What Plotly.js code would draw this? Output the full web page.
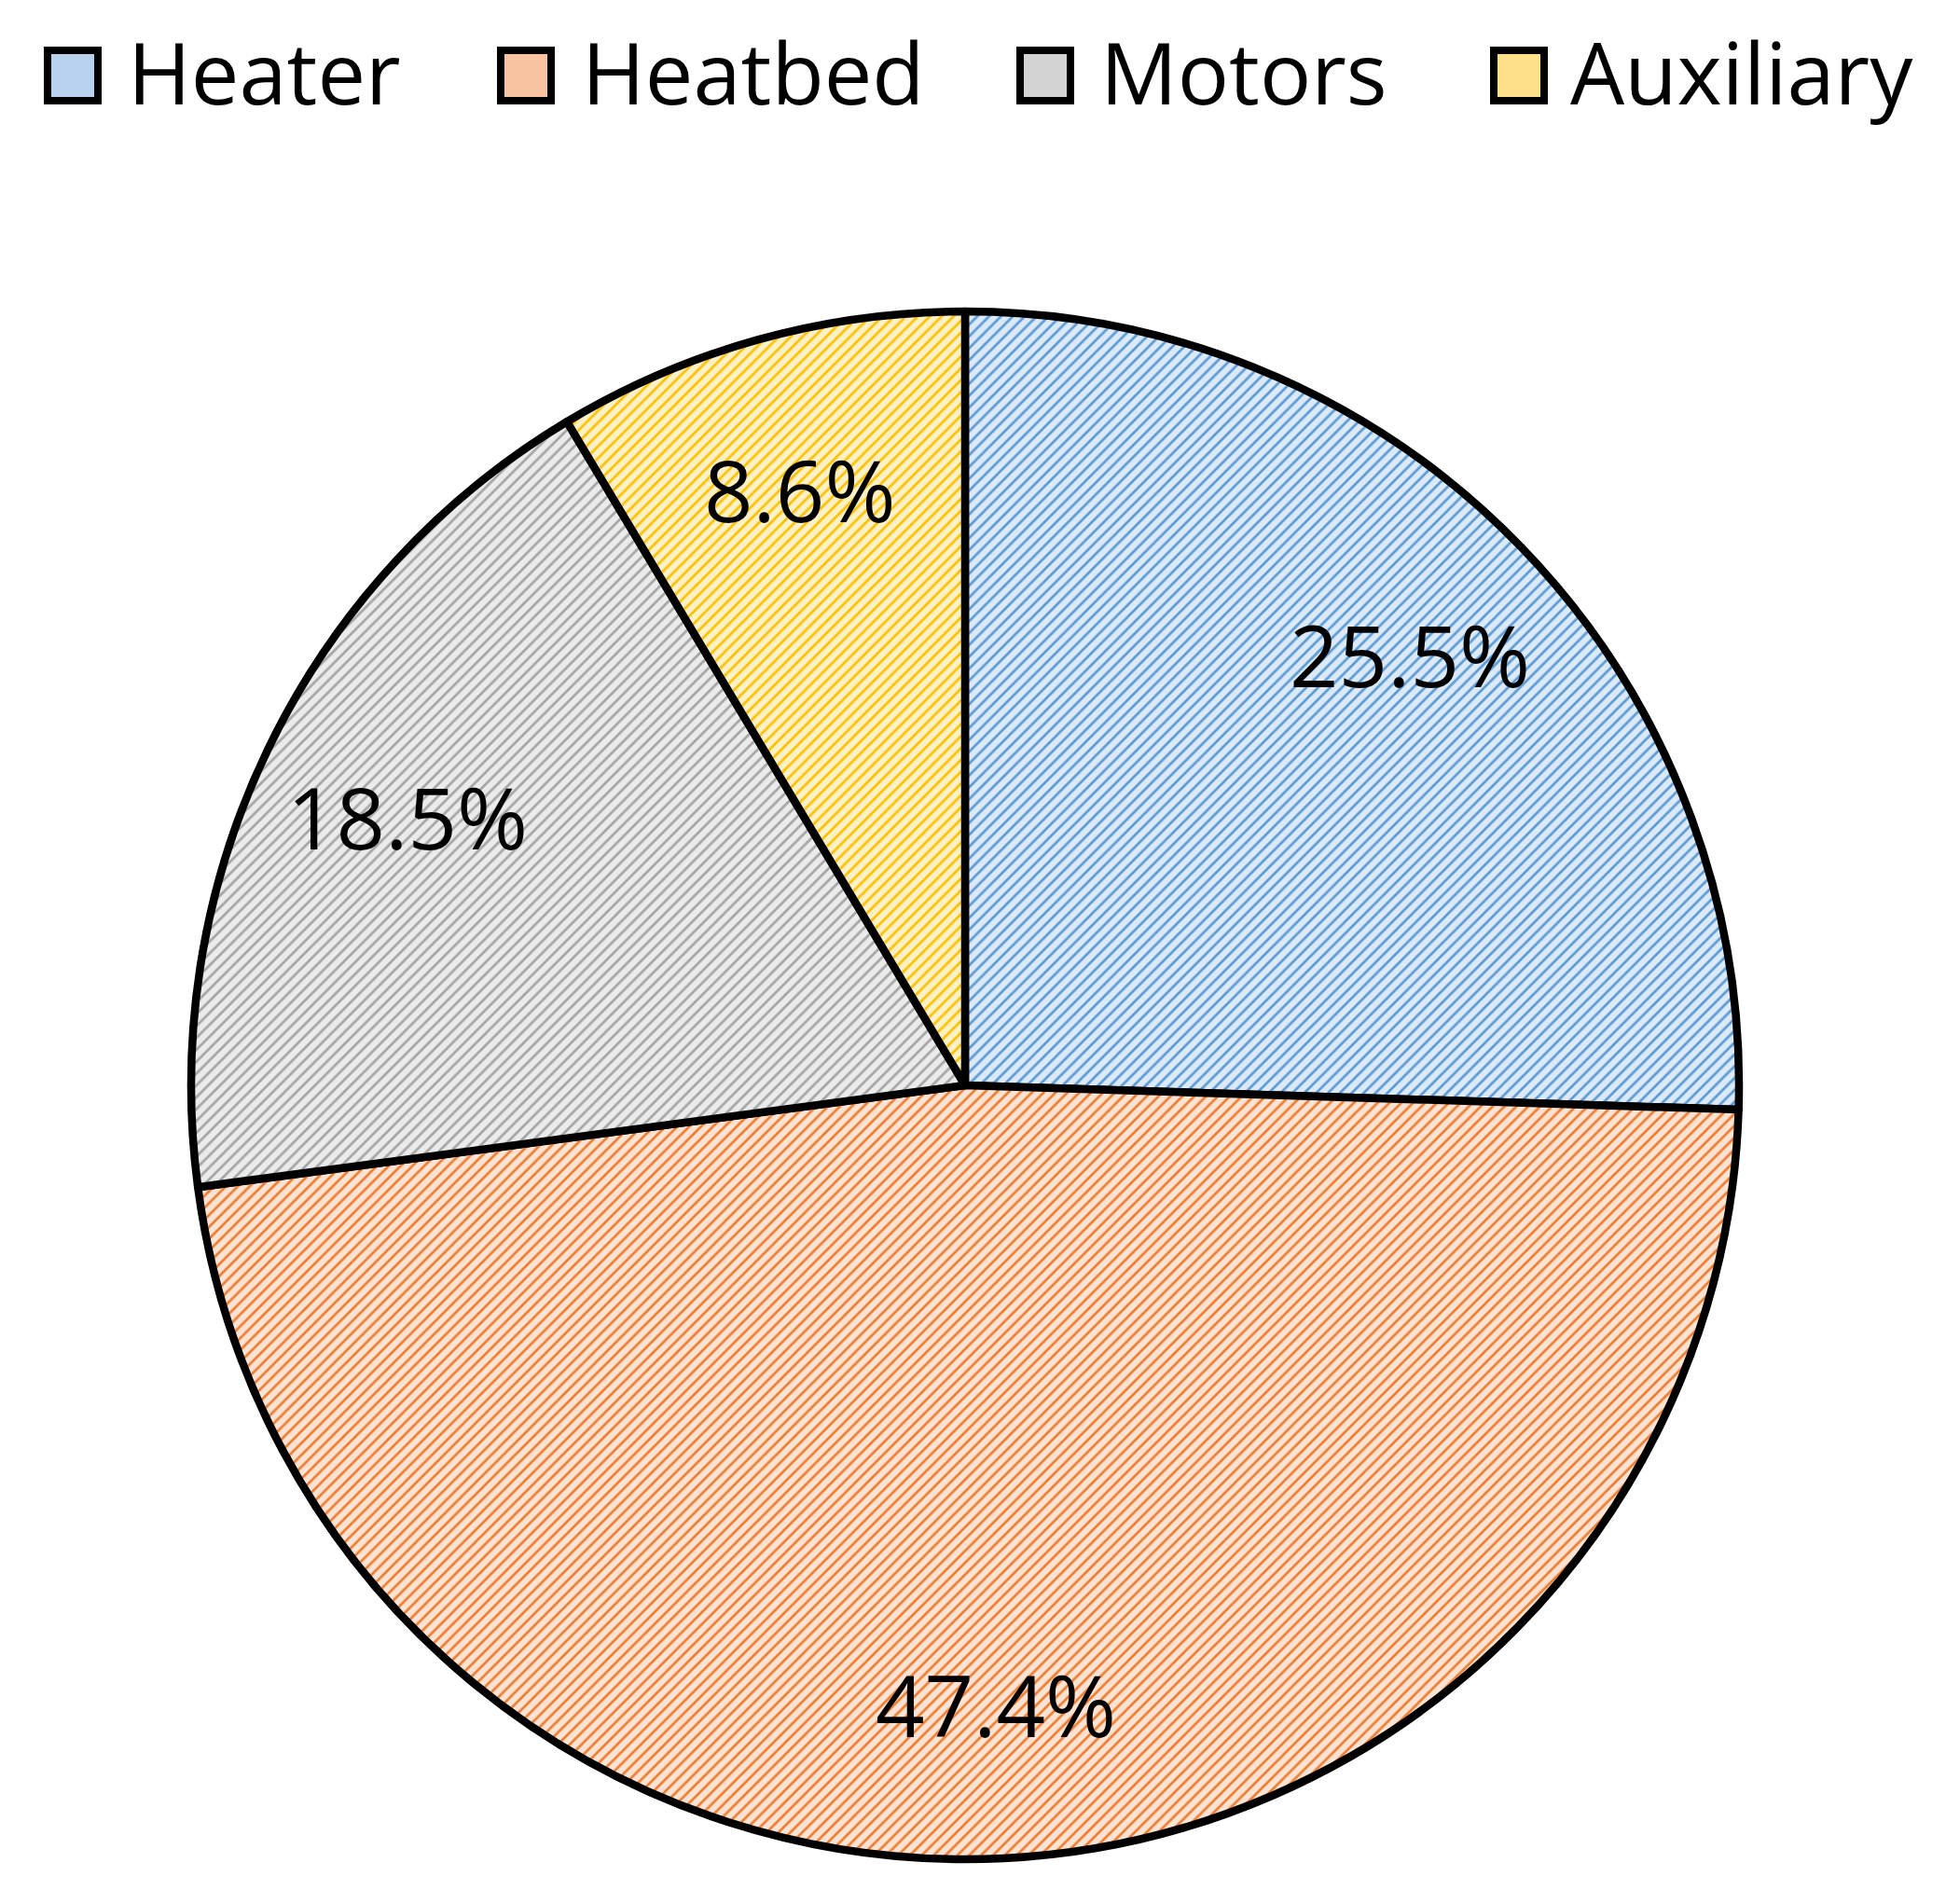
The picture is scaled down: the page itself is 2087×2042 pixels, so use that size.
<!DOCTYPE html>
<html>
<head>
<meta charset="utf-8">
<script src="https://cdn.plot.ly/plotly-3.0.1.min.js"></script>
<style>html,body{margin:0;padding:0;background:#fff;}</style>
</head>
<body>
<div id="chart" style="width:2087px;height:2042px;"></div>
<script>
// ---- data ----
const categories = ['Heater', 'Heatbed', 'Motors', 'Auxiliary'];
const shares = [25.5, 47.4, 18.5, 8.6];

// ---- styles ----
const bgColors = ['#DCE9F6', '#FCE3D3', '#EBEBEB', '#FFF1C6'];
const fgColors = ['#5B9BD5', '#ED7D31', '#A5A5A5', '#FFC000'];
const patchColors = ['#B7D1EE', '#F8C3A0', '#D3D3D3', '#FFE08A'];
const FONT = 'Open Sans, sans-serif';

const W = 2087, H = 2042;
const cx = 1035, cy = 1164, r = 830;
const labelRadius = 0.8;

const trace = {
  type: 'pie',
  labels: categories,
  values: shares,
  sort: false,
  direction: 'clockwise',
  rotation: 0,
  domain: {
    x: [(cx - r) / W, (cx + r) / W],
    y: [(H - cy - r) / H, (H - cy + r) / H]
  },
  marker: {
    colors: bgColors,
    line: {color: '#000000', width: 8.5},
    pattern: {
      shape: '/',
      bgcolor: bgColors,
      fgcolor: fgColors,
      size: 9,
      solidity: 0.3,
      fillmode: 'replace'
    }
  },
  textinfo: 'none',
  textposition: 'none',
  hoverinfo: 'none',
  showlegend: false
};

const shapes = [];
const annotations = [];

// percentage labels, placed at each slice's mid-angle (clockwise from 12 o'clock)
const total = shares.reduce((a, b) => a + b, 0);
let cum = 0;
shares.forEach((v) => {
  const mid = (cum + v / 2) / total * 2 * Math.PI;
  cum += v;
  const px = cx + labelRadius * r * Math.sin(mid);
  const py = cy - labelRadius * r * Math.cos(mid);
  annotations.push({
    xref: 'paper', yref: 'paper',
    x: px / W, y: 1 - py / H,
    xanchor: 'center', yanchor: 'middle',
    text: v.toFixed(1) + '%', showarrow: false,
    font: {family: FONT, size: 92, color: '#000000'}
  });
});

// custom legend (boxes + labels), built from categories
const legendBoxX = [47, 533, 1090, 1598];
const legendTextX = [135, 622, 1178, 1682];
const boxTop = 50, boxSize = 62, boxLine = 8;
categories.forEach((c, i) => {
  shapes.push({
    type: 'rect', xref: 'paper', yref: 'paper',
    x0: (legendBoxX[i] + boxLine / 2) / W, x1: (legendBoxX[i] + boxSize - boxLine / 2) / W,
    y0: 1 - (boxTop + boxSize - boxLine / 2) / H, y1: 1 - (boxTop + boxLine / 2) / H,
    fillcolor: patchColors[i],
    line: {color: '#000000', width: boxLine}
  });
  annotations.push({
    xref: 'paper', yref: 'paper',
    x: legendTextX[i] / W, y: 1 - (boxTop + boxSize / 2 - 4) / H,
    xanchor: 'left', yanchor: 'middle',
    text: c, showarrow: false,
    font: {family: FONT, size: 92, color: '#000000'}
  });
});

const layout = {
  width: W, height: H,
  margin: {l: 0, r: 0, t: 0, b: 0},
  paper_bgcolor: '#ffffff',
  showlegend: false,
  shapes: shapes,
  annotations: annotations
};

Plotly.newPlot('chart', [trace], layout, {staticPlot: true, displayModeBar: false});
</script>
</body>
</html>
